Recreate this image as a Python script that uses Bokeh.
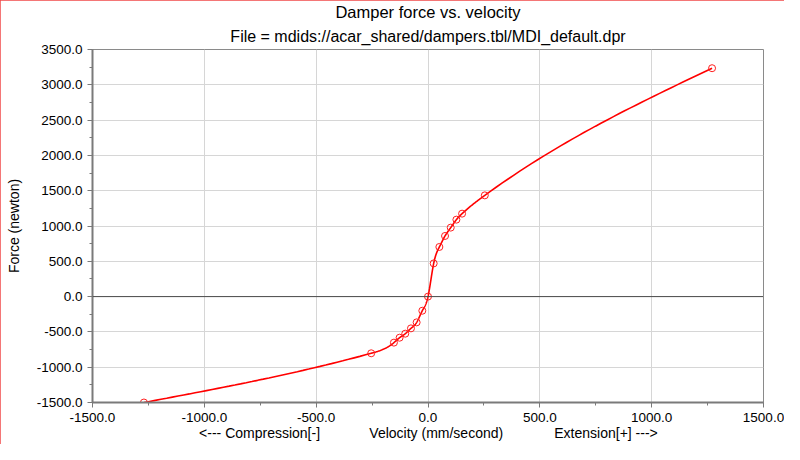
import numpy as np
from bokeh.plotting import figure
from bokeh.models import (LinearAxis, FixedTicker, SingleIntervalTicker, Span, Title,
                          Range1d, NumeralTickFormatter, ColumnDataSource)
from bokeh.embed import file_html
from bokeh.resources import INLINE

# ---- data ----
velocity = [-1270.0, -254.0, -152.4, -127.0, -101.6, -76.2, -50.8, -25.4, 0.0,
            25.4, 50.8, 76.2, 101.6, 127.0, 152.4, 254.0, 1270.0]
force = [-1500.0, -803.0, -652.0, -582.0, -525.0, -450.0, -365.0, -200.0, 0.0,
         470.0, 703.0, 859.0, 977.0, 1090.0, 1175.0, 1434.0, 3235.0]

title_main = "Damper force vs. velocity"
title_file = "File = mdids://acar_shared/dampers.tbl/MDI_default.dpr"
y_label = "Force (newton)"
x_label_texts = ["<--- Compression[-]", "Velocity (mm/second)", "Extension[+] --->"]
x_label_at = [-753, 37, 796]

FONT = "Liberation Sans"


def natural_spline_path(xs, ys, per_seg=40):
    """Draw the curve through the points as a natural cubic spline (as the tool does)."""
    x = np.asarray(xs, float)
    y = np.asarray(ys, float)
    n = len(x)
    h = np.diff(x)
    A = np.zeros((n, n))
    r = np.zeros(n)
    A[0, 0] = 1.0
    A[-1, -1] = 1.0
    for i in range(1, n - 1):
        A[i, i - 1] = h[i - 1]
        A[i, i] = 2 * (h[i - 1] + h[i])
        A[i, i + 1] = h[i]
        r[i] = 6 * ((y[i + 1] - y[i]) / h[i] - (y[i] - y[i - 1]) / h[i - 1])
    M = np.linalg.solve(A, r)
    px, py = [], []
    for i in range(n - 1):
        t = np.linspace(x[i], x[i + 1], per_seg, endpoint=(i == n - 2))
        a = (x[i + 1] - t) / h[i]
        b = (t - x[i]) / h[i]
        s = a * y[i] + b * y[i + 1] + ((a ** 3 - a) * M[i] + (b ** 3 - b) * M[i + 1]) * h[i] ** 2 / 6
        px.extend(t.tolist())
        py.extend(s.tolist())
    return px, py


p = figure(width=784, height=444, output_backend="svg", toolbar_location=None,
           title=None,
           x_range=Range1d(-1500, 1500), y_range=Range1d(-1500, 3500),
           min_border_left=92, min_border_right=21, min_border_top=48, min_border_bottom=42,
           background_fill_color="white", border_fill_color="white")

p.outline_line_color = "#8a8a8a"
p.outline_line_width = 1

# titles (second line closest to the plot)
t2 = Title(text=title_file, align="center", text_font=FONT, text_font_size="16px",
           text_font_style="normal", text_color="black", standoff=10)
t1 = Title(text=title_main, align="center", text_font=FONT, text_font_size="16.5px",
           text_font_style="normal", text_color="black", standoff=0)
p.add_layout(t2, "above")
p.add_layout(t1, "above")

# axes
for ax in (p.xaxis[0], p.yaxis[0]):
    ax.ticker = SingleIntervalTicker(interval=500, num_minor_ticks=2)
    ax.formatter = NumeralTickFormatter(format="0.0")
    ax.axis_line_color = "#7a7a7a"
    ax.axis_line_width = 2
    ax.major_tick_line_color = "#7a7a7a"
    ax.minor_tick_line_color = "#7a7a7a"
    ax.major_tick_in = 0
    ax.minor_tick_in = 0
    ax.major_tick_out = 5
    ax.minor_tick_out = 3
    ax.major_label_text_font = FONT
    ax.major_label_text_font_size = "13.5px"
    ax.major_label_text_color = "black"

p.xaxis[0].major_label_standoff = 5
p.yaxis[0].major_label_standoff = 5
p.yaxis[0].axis_label = y_label
p.yaxis[0].axis_label_text_font = FONT
p.yaxis[0].axis_label_text_font_size = "14px"
p.yaxis[0].axis_label_text_font_style = "normal"
p.yaxis[0].axis_label_text_color = "black"
p.yaxis[0].axis_label_standoff = 12

# second row of x labels
ax2 = LinearAxis(ticker=FixedTicker(ticks=x_label_at),
                 major_label_overrides={k: v for k, v in zip(x_label_at, x_label_texts)})
ax2.axis_line_color = None
ax2.major_tick_line_color = None
ax2.minor_tick_line_color = None
ax2.major_tick_out = 0
ax2.major_tick_in = 0
ax2.major_label_standoff = 0
ax2.major_label_text_font = FONT
ax2.major_label_text_font_size = "14px"
ax2.major_label_text_color = "black"
p.add_layout(ax2, "below")

# grid
p.xgrid.ticker = SingleIntervalTicker(interval=500)
p.ygrid.ticker = SingleIntervalTicker(interval=500)
p.xgrid.grid_line_color = "#d6d6d6"
p.ygrid.grid_line_color = "#d6d6d6"
p.xgrid.grid_line_width = 1
p.ygrid.grid_line_width = 1

p.add_layout(Span(location=0, dimension="width", line_color="#4a4a4a", line_width=1))

# curve + points
cx, cy = natural_spline_path(velocity, force)
p.line(cx, cy, line_color="#ff0000", line_width=1.6)
src = ColumnDataSource(dict(v=velocity, f=force))
p.scatter("v", "f", source=src, marker="circle", size=7, fill_color=None,
          line_color="#ff2020", line_width=1)

p.styles = {"outline": "2px solid #f04848", "outline-offset": "-2px"}

open("out.html", "w").write(file_html(p, INLINE))
